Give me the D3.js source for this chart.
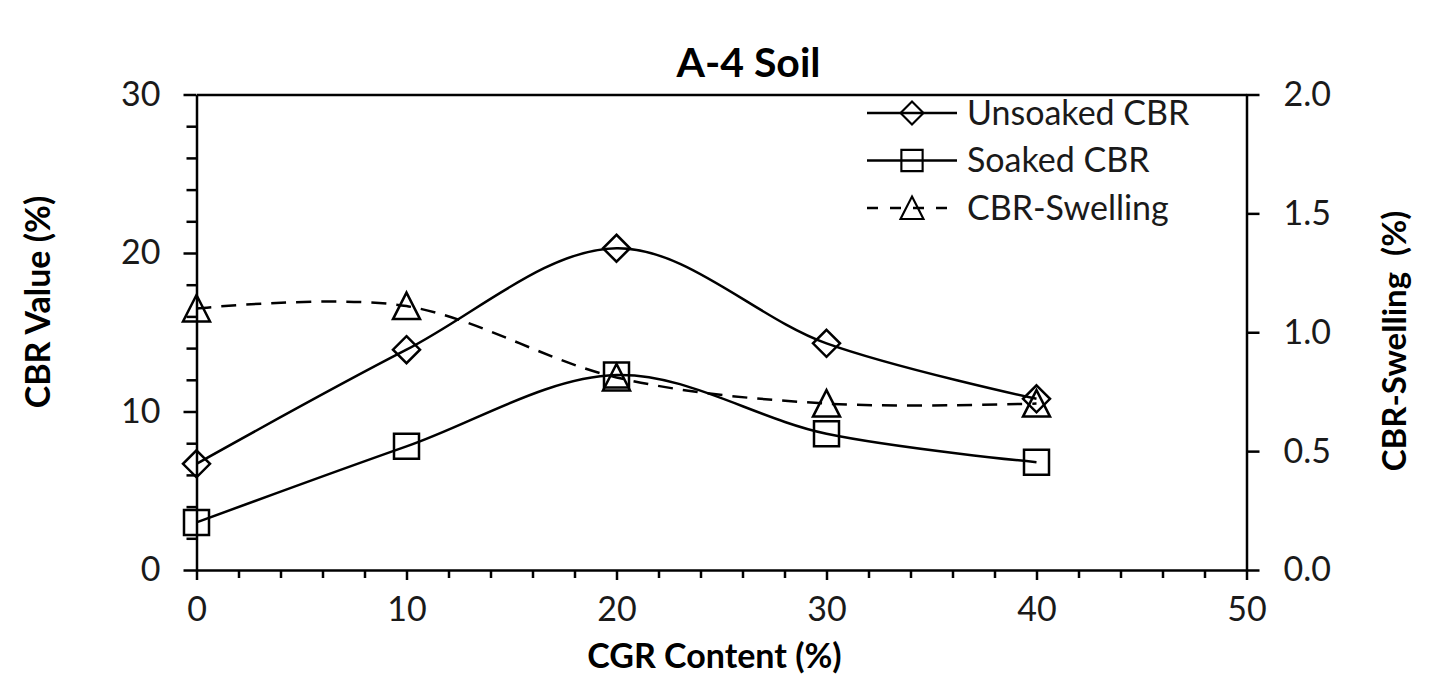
<!DOCTYPE html>
<html>
<head>
<meta charset="utf-8">
<script src="https://cdn.jsdelivr.net/npm/d3@7"></script>
<style>
  body { margin: 0; background: #fff; }
  svg { display: block; font-family: Lato, "Open Sans", sans-serif; }
  .axis path, .axis line { stroke: #000; stroke-width: 2.5; }
  .axis text { font-family: Lato, "Open Sans", sans-serif; font-size: 34px; fill: #1a1a1a; }
</style>
</head>
<body>
<div id="chart"></div>
<script>
// values
var cgrContent = [0, 10, 20, 30, 40];
var unsoakedCBR = [6.7, 13.9, 20.3, 14.3, 10.8];
var soakedCBR = [3.0, 7.8, 12.3, 8.6, 6.8];
var cbrSwelling = [1.10, 1.11, 0.81, 0.70, 0.70];

var xTicks = [0, 10, 20, 30, 40, 50];
var leftTicks = [0, 10, 20, 30];
var rightTicks = [0, 0.5, 1.0, 1.5, 2.0];
var seriesNames = ["Unsoaked CBR", "Soaked CBR", "CBR-Swelling"];

var width = 1440, height = 685;
var margin = { top: 94.5, right: 193.5, bottom: 115, left: 196.5 };
var w = width - margin.left - margin.right;
var h = height - margin.top - margin.bottom;

var svg = d3.select("#chart").append("svg")
  .attr("width", width)
  .attr("height", height)
  .append("g")
  .attr("transform", "translate(" + margin.left + "," + margin.top + ")");

var x = d3.scaleLinear().domain([0, 50]).range([0, w]);
var yL = d3.scaleLinear().domain([0, 30]).range([h, 0]);
var yR = d3.scaleLinear().domain([0, 2]).range([h, 0]);

function minors(step, max, majorStep) {
  return d3.range(0, max + 0.001, step).filter(function (v) {
    return Math.abs(v / majorStep - Math.round(v / majorStep)) > 1e-6;
  });
}

// minor ticks first
svg.append("g").attr("class", "axis")
  .call(d3.axisLeft(yL).tickValues(minors(2, 30, 10)).tickSize(10).tickSizeOuter(0).tickFormat(""))
  .select(".domain").remove();
svg.append("g").attr("class", "axis")
  .attr("transform", "translate(0," + h + ")")
  .call(d3.axisBottom(x).tickValues(minors(2, 50, 10)).tickSize(8).tickSizeOuter(0).tickFormat(""))
  .select(".domain").remove();

// major axes
svg.append("g").attr("class", "axis")
  .call(d3.axisLeft(yL).tickValues(leftTicks).tickSize(13).tickSizeOuter(0).tickPadding(23));
svg.append("g").attr("class", "axis")
  .attr("transform", "translate(0," + h + ")")
  .call(d3.axisBottom(x).tickValues(xTicks).tickSize(10).tickSizeOuter(0).tickPadding(17));
svg.append("g").attr("class", "axis")
  .attr("transform", "translate(" + w + ",0)")
  .call(d3.axisRight(yR).tickValues(rightTicks).tickSize(13).tickSizeOuter(0).tickPadding(24).tickFormat(d3.format(".1f")));
// top border
svg.append("g").attr("class", "axis")
  .call(d3.axisTop(x).tickValues([]).tickSizeOuter(0));

// titles
svg.append("text")
  .attr("x", 552).attr("y", -18)
  .attr("text-anchor", "middle")
  .style("font-weight", "bold").style("font-size", "41px")
  .text("A-4 Soil");
svg.append("text")
  .attr("x", x(25) - 7).attr("y", h + 98)
  .attr("text-anchor", "middle")
  .style("font-weight", "bold").style("font-size", "34px")
  .text("CGR Content (%)");
svg.append("text")
  .attr("transform", "rotate(-90)")
  .attr("x", -(302 - margin.top)).attr("y", -margin.left + 50)
  .attr("text-anchor", "middle")
  .style("font-weight", "bold").style("font-size", "34px")
  .text("CBR Value (%)");
svg.append("text")
  .attr("transform", "rotate(-90)")
  .attr("x", -(341 - margin.top)).attr("y", w + 159)
  .attr("text-anchor", "middle")
  .style("font-weight", "bold").style("font-size", "33px")
  .text("CBR-Swelling\u00a0 (%)");

// lines
var series = [
  { name: seriesNames[0], values: unsoakedCBR, y: yL, marker: "diamond", dash: null },
  { name: seriesNames[1], values: soakedCBR, y: yL, marker: "square", dash: null },
  { name: seriesNames[2], values: cbrSwelling, y: yR, marker: "triangle", dash: "15,10" }
];

// Excel-style open markers, about 27px across
function markerPath(kind) {
  var p = d3.path();
  if (kind === "diamond") {
    p.moveTo(0, -13.5); p.lineTo(13.5, 0); p.lineTo(0, 13.5); p.lineTo(-13.5, 0);
  } else if (kind === "square") {
    p.rect(-12.5, -12.5, 25, 25);
  } else {
    p.moveTo(0, -13.5); p.lineTo(13.5, 13); p.lineTo(-13.5, 13);
  }
  p.closePath();
  return p.toString();
}

series.forEach(function (s) {
  var pts = cgrContent.map(function (c, i) { return [x(c), s.y(s.values[i])]; });
  svg.append("path")
    .attr("d", d3.line().curve(d3.curveCardinal.tension(0))(pts))
    .attr("fill", "none")
    .attr("stroke", "#000")
    .attr("stroke-width", 2.5)
    .attr("stroke-dasharray", s.dash);
  svg.selectAll(null).data(pts).enter().append("path")
    .attr("d", markerPath(s.marker))
    .attr("transform", function (d) { return "translate(" + d[0] + "," + d[1] + ")"; })
    .attr("fill", "none")
    .attr("stroke", "#000")
    .attr("stroke-width", 2.5);
});

// legend
var legend = svg.append("g").attr("transform", "translate(" + (867 - margin.left) + "," + (113 - margin.top) + ")");
series.forEach(function (s, i) {
  var g = legend.append("g").attr("transform", "translate(0," + (i * 47.5) + ")");
  g.append("line")
    .attr("x1", 0).attr("x2", 90).attr("y1", 0).attr("y2", 0)
    .attr("stroke", "#000").attr("stroke-width", 2.5)
    .attr("stroke-dasharray", s.dash ? "11,12" : null);
  g.append("path")
    .attr("d", markerPath(s.marker))
    .attr("transform", "translate(45,0) scale(0.85)")
    .attr("fill", "none")
    .attr("stroke", "#000").attr("stroke-width", 2.5);
  g.append("text")
    .attr("x", 100).attr("y", 0).attr("dy", "0.35em")
    .style("font-size", "34px").style("fill", "#1a1a1a")
    .text(s.name);
});
</script>
</body>
</html>
